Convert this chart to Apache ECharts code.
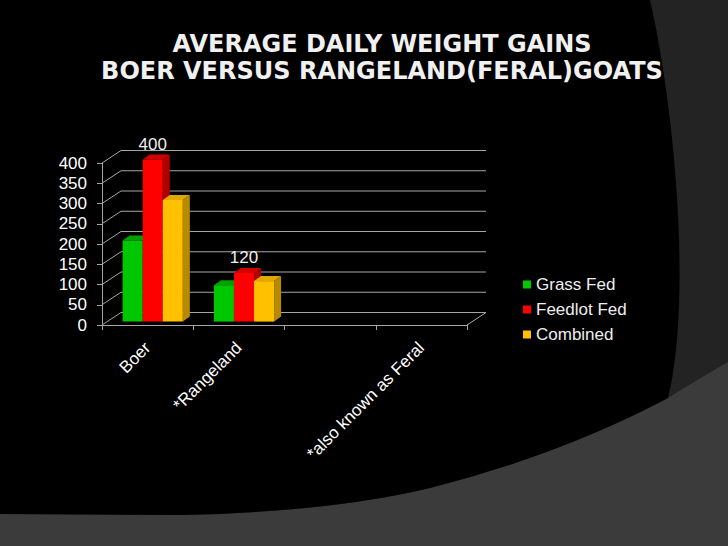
<!DOCTYPE html>
<html>
<head>
<meta charset="utf-8">
<script src="https://cdn.jsdelivr.net/npm/echarts@6/dist/echarts.min.js"></script>
<style>
  html, body { margin: 0; padding: 0; background: #232323; }
  #main { width: 728px; height: 546px; }
</style>
</head>
<body>
<div id="main"></div>
<script>
  // data
  const categories = ["Boer", "*Rangeland", "", "*also known as Feral"];
  const seriesNames = ["Grass Fed", "Feedlot Fed", "Combined"];
  const grassFed = [200, 90, null, null];
  const feedlotFed = [400, 120, null, null];
  const combined = [300, 100, null, null];
  const yTicks = [0, 50, 100, 150, 200, 250, 300, 350, 400];

  // 3d look: offset of back wall, bar front face and bar depth
  const DEPTH = [19, -12.5];
  const FRONT = [5.1, -3.4];
  const BAR = [7, -5];
  const LINE = "#a6a6a6";

  function line(x1, y1, x2, y2) {
    return {
      type: "line",
      shape: { x1: x1, y1: y1, x2: x2, y2: y2 },
      style: { stroke: LINE, lineWidth: 1 }
    };
  }

  // slide background shapes
  const slideSeries = {
    type: "custom",
    coordinateSystem: "none",
    silent: true,
    z: -5,
    data: [0],
    renderItem: function() {
      return {
        type: "group",
        children: [
          {
            type: "path",
            shape: { pathData: "M0,514 L180,515 Q330,512 430,488 Q560,455 668,398 Q700,378 728,362 L728,546 L0,546 Z" },
            style: { fill: "#3b3b3b" }
          },
          {
            type: "path",
            shape: { pathData: "M0,0 L650,0 C675,110 692,300 668,398 Q560,455 430,488 Q330,512 180,515 L0,514 Z" },
            style: { fill: "#000000" }
          }
        ]
      };
    }
  };

  // back wall + side lines
  const wallSeries = {
    type: "custom",
    silent: true,
    data: [[0, 0]],
    encode: { x: 0, y: 1 },
    renderItem: function(params, api) {
      const cs = params.coordSys;
      const children = [];
      yTicks.forEach(function(v) {
        const y = api.coord([0, v])[1];
        children.push(line(cs.x, y, cs.x + DEPTH[0], y + DEPTH[1]));
        children.push(line(cs.x + DEPTH[0], y + DEPTH[1], cs.x + cs.width + DEPTH[0], y + DEPTH[1]));
      });
      const y0 = api.coord([0, 0])[1];
      children.push(line(cs.x + cs.width, y0, cs.x + cs.width + DEPTH[0], y0 + DEPTH[1]));
      return { type: "group", children: children };
    }
  };

  function barSeries(name, values, faces, idx, showLabel) {
    return {
      name: name,
      type: "custom",
      itemStyle: { color: faces[0] },
      data: values.map(function(v, i) { return [i, v]; }),
      encode: { x: 0, y: 1 },
      renderItem: function(params, api) {
        const v = api.value(1);
        if (v == null || isNaN(v)) return;
        const top = api.coord([api.value(0), v]);
        const base = api.coord([api.value(0), 0]);
        const band = api.size([1, 0])[0];
        const w = band * 0.22;
        const x0 = top[0] - 1.5 * w + idx * w + FRONT[0];
        const x1 = x0 + w;
        const y0 = base[1] + FRONT[1];
        const y1 = top[1] + FRONT[1];
        const children = [
          { type: "rect", shape: { x: x0, y: y1, width: w, height: y0 - y1 }, style: { fill: faces[0] } },
          { type: "polygon", shape: { points: [[x0, y1], [x0 + BAR[0], y1 + BAR[1]], [x1 + BAR[0], y1 + BAR[1]], [x1, y1]] }, style: { fill: faces[1] } },
          { type: "polygon", shape: { points: [[x1, y1], [x1 + BAR[0], y1 + BAR[1]], [x1 + BAR[0], y0 + BAR[1]], [x1, y0]] }, style: { fill: faces[2] } }
        ];
        if (showLabel) {
          children.push({
            type: "text",
            style: {
              text: String(v),
              x: x0 + w / 2,
              y: y1 + BAR[1] - 2,
              align: "center",
              verticalAlign: "bottom",
              fill: "#eeeeee",
              fontSize: 17,
              fontFamily: "Liberation Sans, Arial"
            }
          });
        }
        return { type: "group", children: children };
      }
    };
  }

  const chart = echarts.init(document.getElementById("main"), null, { renderer: "svg" });
  chart.setOption({
    backgroundColor: "#232323",
    animation: false,
    title: {
      text: "AVERAGE DAILY WEIGHT GAINS\nBOER VERSUS RANGELAND(FERAL)GOATS",
      left: 382,
      top: 30,
      padding: 0,
      textAlign: "center",
      textStyle: {
        color: "#f0f0f0",
        fontFamily: "DejaVu Sans",
        fontWeight: "bold",
        fontSize: 24,
        lineHeight: 27
      }
    },
    legend: {
      orient: "vertical",
      left: 518,
      top: 271,
      itemWidth: 8,
      itemHeight: 8,
      itemGap: 8,
      icon: "rect",
      data: seriesNames,
      textStyle: { color: "#eeeeee", fontSize: 17, fontFamily: "Liberation Sans, Arial" }
    },
    grid: { left: 102, right: 261, top: 163, bottom: 221 },
    xAxis: {
      type: "category",
      data: categories,
      axisLine: { lineStyle: { color: LINE } },
      axisTick: { show: true, length: 5, lineStyle: { color: LINE } },
      axisLabel: {
        rotate: 45,
        interval: 0,
        margin: 20,
        color: "#ffffff",
        fontSize: 17,
        fontFamily: "Liberation Sans, Arial"
      }
    },
    yAxis: {
      type: "value",
      min: 0,
      max: 400,
      interval: 50,
      splitLine: { show: false },
      axisLine: { show: true, lineStyle: { color: LINE } },
      axisTick: { show: true, length: 5, lineStyle: { color: LINE } },
      axisLabel: { margin: 15, color: "#ffffff", fontSize: 17, fontFamily: "Liberation Sans, Arial" }
    },
    series: [
      slideSeries,
      wallSeries,
      barSeries("Grass Fed", grassFed, ["#00c800", "#00a000", "#008a00"], 0, false),
      barSeries("Feedlot Fed", feedlotFed, ["#ff0000", "#d40000", "#b00000"], 1, true),
      barSeries("Combined", combined, ["#ffc000", "#e0a800", "#b88a00"], 2, false)
    ]
  });
</script>
</body>
</html>
